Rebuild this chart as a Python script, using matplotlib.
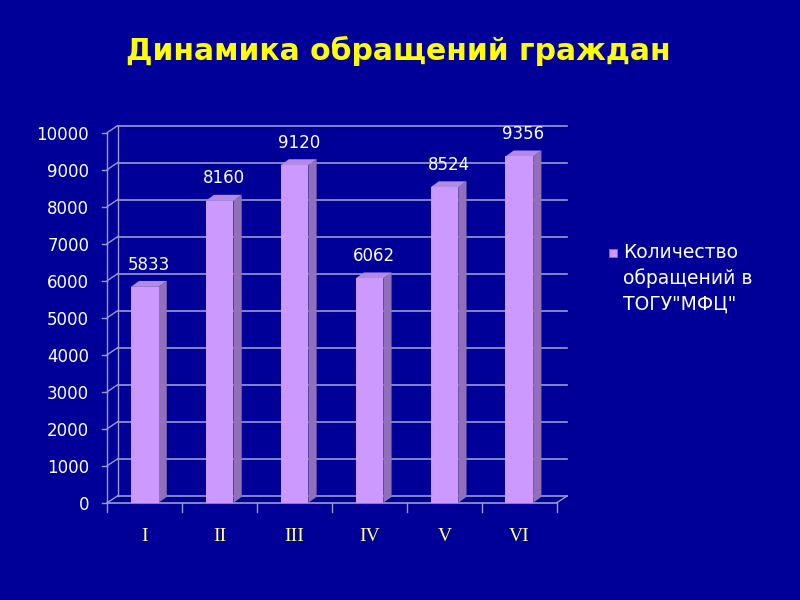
import matplotlib.pyplot as plt
from matplotlib.patches import Polygon, Rectangle

# data
categories = ["I", "II", "III", "IV", "V", "VI"]
values = [5833, 8160, 9120, 6062, 8524, 9356]
y_ticks = [0, 1000, 2000, 3000, 4000, 5000, 6000, 7000, 8000, 9000, 10000]
series_name = 'Количество\nобращений в\nТОГУ"МФЦ"'
title = "Динамика обращений граждан"

bg = "#000099"
grid_col = "#9a9acc"
front_col = "#cc99ff"
side_col = "#9070b8"
top_col = "#b48ae6"

fig = plt.figure(figsize=(8, 6), dpi=100, facecolor=bg)
ax = fig.add_axes([0.134, 0.162, 0.562, 0.617])
ax.set_facecolor(bg)
ax.patch.set_alpha(0)
ax.set_xlim(0, len(categories))
ax.set_ylim(0, 10000)
for s in ax.spines.values():
    s.set_visible(False)

# wall depth (data units)
wdx, wdy = 0.14, 190
n = len(categories)

# back wall grid lines + slanted ticks
for t in y_ticks:
    ax.plot([0, wdx], [t, t + wdy], color=grid_col, lw=1, clip_on=False)
    ax.plot([-0.07, 0], [t, t], color=grid_col, lw=1, clip_on=False)
    ax.plot([wdx, n + wdx], [t + wdy, t + wdy], color=grid_col, lw=1.2, clip_on=False)
ax.plot([0, 0], [0, 10000], color=grid_col, lw=1, clip_on=False)
ax.plot([wdx, wdx], [wdy, 10000 + wdy], color=grid_col, lw=1, clip_on=False)
# floor
ax.plot([0, n], [0, 0], color=grid_col, lw=1.2, clip_on=False)
ax.plot([n, n + wdx], [0, wdy], color=grid_col, lw=1, clip_on=False)
for i in range(n + 1):
    ax.plot([i, i], [0, -250], color=grid_col, lw=1, clip_on=False)

ax.set_yticks(y_ticks)
ax.set_yticklabels([str(t) for t in y_ticks], color="white", fontsize=12)
ax.tick_params(axis="y", length=0, pad=13)
ax.set_xticks([i + 0.5 for i in range(n)])
ax.set_xticklabels(categories, color="#ffff88", fontsize=14, family="Liberation Serif")
ax.tick_params(axis="x", length=0, pad=18)

# 3d-ish bars
bw = 0.37
bdx, bdy = 0.11, 160
for i, v in enumerate(values):
    x0 = i + 0.5 - bw / 2
    x1 = x0 + bw
    ax.add_patch(Polygon([(x1, 0), (x1 + bdx, bdy), (x1 + bdx, v + bdy), (x1, v)],
                         closed=True, facecolor=side_col, edgecolor="none", zorder=3))
    ax.add_patch(Polygon([(x0, v), (x1, v), (x1 + bdx, v + bdy), (x0 + bdx, v + bdy)],
                         closed=True, facecolor=top_col, edgecolor="none", zorder=3))
    ax.bar(i + 0.5, v, width=bw, color=front_col, zorder=4)
    ax.text(i + 0.5 + bdx / 2, v + bdy + 200, str(v), ha="center", va="bottom",
            color="white", fontsize=12, zorder=5)

fig.text(0.498, 0.915, title, ha="center", va="center", color="#ffff00",
         fontsize=21.5, fontweight="bold")

# legend
fig.patches.append(Rectangle((0.761, 0.572), 0.01, 0.013, transform=fig.transFigure,
                             facecolor=front_col, edgecolor="#9070b8", lw=0.5))
fig.text(0.779, 0.595, series_name, ha="left", va="top", color="white",
         fontsize=13.5, linespacing=1.42)

fig.savefig("out.png", dpi=100, facecolor=bg)
